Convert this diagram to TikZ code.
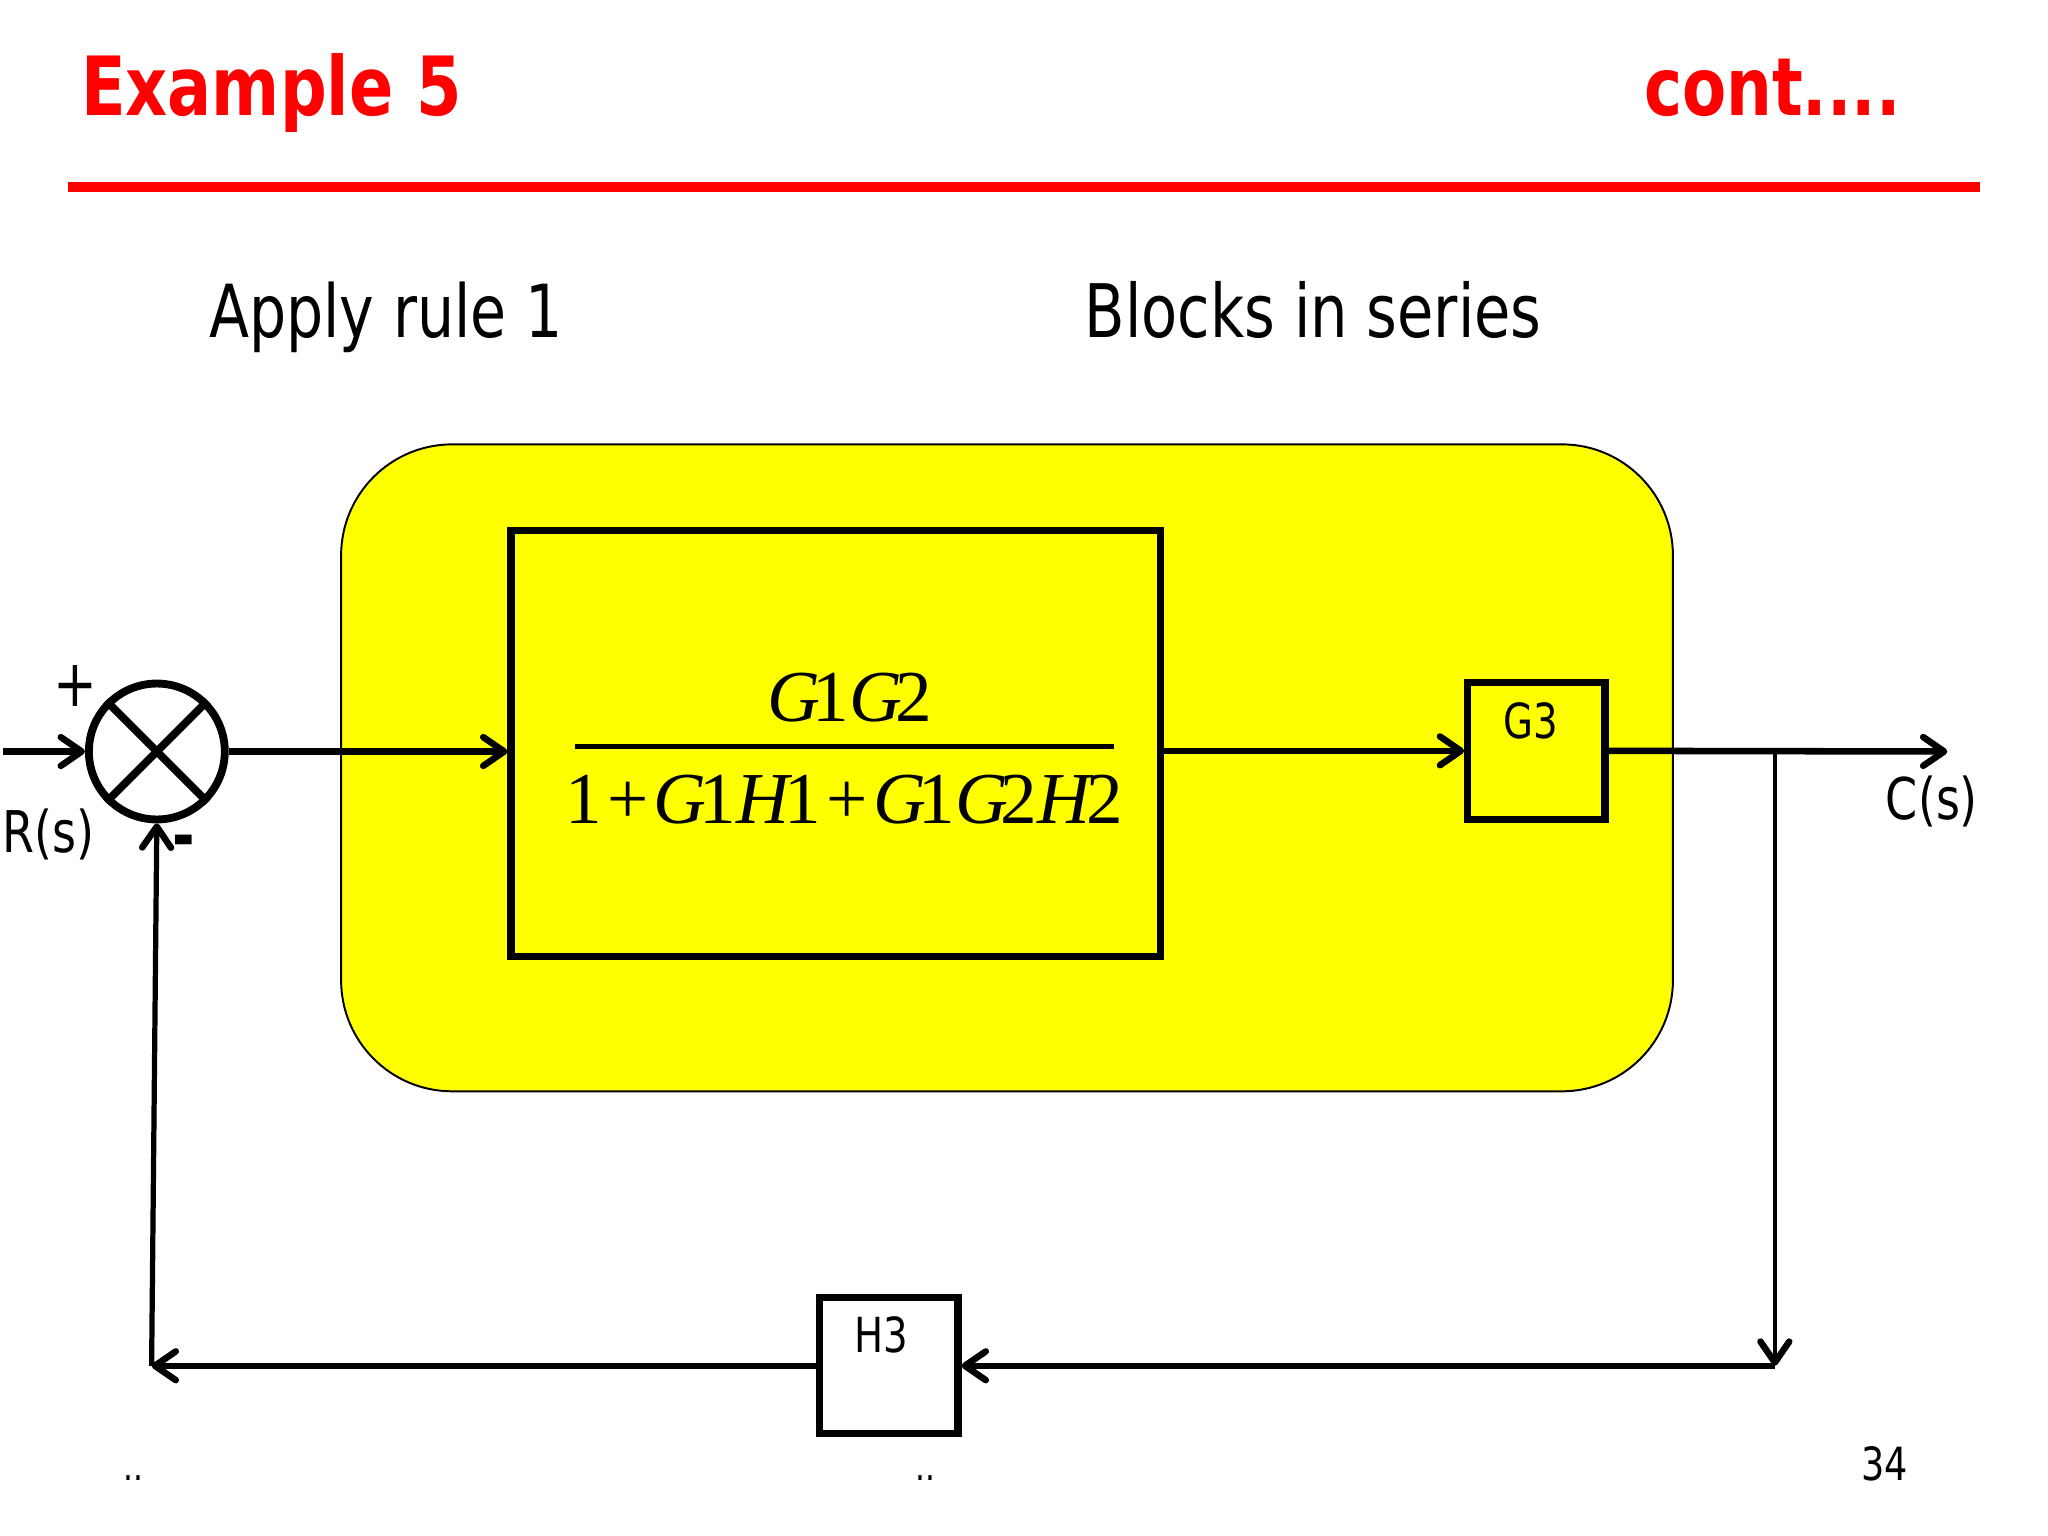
\documentclass[tikz,border=0pt]{standalone}
\usepackage{fontspec}
\setmainfont{DejaVu Sans}[FakeStretch=0.8]
\newfontfamily\tms{Liberation Serif}
\usetikzlibrary{arrows.meta}
\definecolor{titlered}{RGB}{255,0,0}
\definecolor{boxyellow}{RGB}{255,255,0}
\newcommand{\fsz}[1]{\fontsize{#1}{#1}\selectfont}
\newcommand{\iv}[1]{\textit{#1}\kern-0.1em}
\newcommand{\pl}{\kern4pt+\kern4pt}
\begin{document}
\begin{tikzpicture}[x=1pt,y=-1pt,
  txt/.style={inner sep=0pt, outer sep=0pt},
  conn/.style={line width=5pt, -{Straight Barb[length=16pt,width=22pt,line width=5pt,round]}},
  blockbox/.style={draw, line width=5.5pt, rectangle, inner sep=0pt, outer sep=2.75pt},
]
\useasboundingbox (0,0) rectangle (1567,1175);
% header
\node[txt, anchor=base west, text=titlered] (title) at (62,88) {\fsz{62.5}\bfseries Example 5};
\node[txt, anchor=base west, text=titlered] (cont) at (1258,88) {\fsz{61.5}\bfseries cont....};
\draw[titlered, line width=7.5pt] (52,143) -- (1515,143);
\node[txt, anchor=base west] (rule) at (160,258) {\fsz{56}Apply rule 1};
\node[txt, anchor=base west] (series) at (830,258) {\fsz{56.5}Blocks in series};
% yellow group
\node[draw, fill=boxyellow, line width=1.5pt, rounded corners=85pt, minimum width=1019pt, minimum height=495pt, inner sep=0pt] (grp) at (770.5,587.5) {};
% big block
\node[blockbox, minimum width=497pt, minimum height=326pt] (blk) at (639.5,569) {};
\node[txt, anchor=base] (num) at (650,552) {\tms\fsz{56}\iv{G}1\iv{G}2};
\node[txt, anchor=base] (den) at (646,630) {\tms\fsz{56}1\pl\iv{G}1\iv{H}1\pl\iv{G}1\iv{G}2\iv{H}2};
\draw[line width=3.5pt] (440,571) -- (852,571);
% G3
\node[blockbox, minimum width=105pt, minimum height=105pt] (g3) at (1175.5,574.5) {};
\node[txt, anchor=base] (g3t) at (1171,565) {\fsz{37}G3};
% H3
\node[blockbox, fill=white, minimum width=106pt, minimum height=104pt] (h3) at (680,1045) {};
\node[txt, anchor=base] (h3t) at (674,1035) {\fsz{37}H3};
% summing junction
\node[draw, circle, line width=6pt, minimum size=104pt, inner sep=0pt, outer sep=3pt] (sum) at (120,575) {};
\draw[line width=6pt] (sum.north west) -- (sum.south east);
\draw[line width=6pt] (sum.north east) -- (sum.south west);
\node[txt] (plus) at (58,525) {\fsz{50}+};
\node[txt] (minus) at (141,648) {\fsz{52}\bfseries -};
\node[txt, anchor=base west] (rs) at (2,652) {\fsz{44}R(s)};
\node[txt, anchor=base west] (cs) at (1443,627) {\fsz{44}C(s)};
% coordinates
\coordinate (in) at (2,575);
\coordinate (out) at (1490,575);
\coordinate (br) at (1358,575);
\coordinate (bl) at (1358,1045);
\coordinate (lc) at (116,1045);
% connectors
\draw[conn] (in) -- (sum.west);
\draw[conn] (sum.east) -- (sum.east -| blk.west);
\draw[conn] (blk.east |- g3.west) -- (g3.west);
\draw[conn] (g3.east) -- (out);
\draw[conn, line width=3.5pt] (br) -- (bl);
\draw[conn] (bl) -- (h3.east);
\draw[conn] (h3.west) -- (lc);
\draw[conn, line width=4pt] (lc) -- (sum.south);
% footer
\node[txt, anchor=base] (d1) at (102,1133) {\fsz{30}..};
\node[txt, anchor=base] (d2) at (708,1133) {\fsz{30}..};
\node[txt, anchor=base west] (pg) at (1424,1133) {\fsz{35}34};
\end{tikzpicture}
\end{document}
